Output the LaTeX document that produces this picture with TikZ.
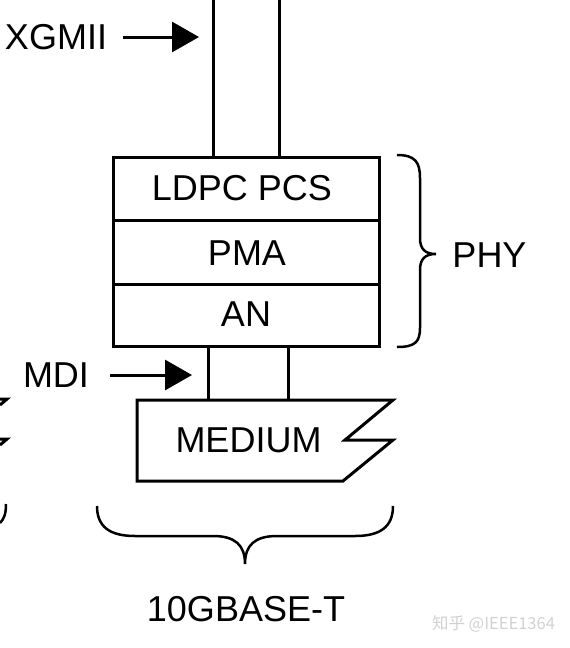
\documentclass[tikz,border=0pt]{standalone}
\usepackage{fontspec}
\setmainfont{Liberation Sans}
\newfontfamily\cjk{Noto Sans CJK SC}
\usetikzlibrary{arrows.meta}
\begin{document}
\begin{tikzpicture}[x=1pt,y=-1pt,
  lbl/.style={font=\fontsize{36}{42}\selectfont, inner sep=0pt},
  layer/.style={draw, line width=3pt, minimum width=266pt, inner sep=0pt},
  wire/.style={line width=3pt},
  inarrow/.style={line width=3pt, -{Triangle[length=27pt,width=30pt]}},
  brace/.style={line width=2.5pt},
  wm/.style={font=\cjk\fontsize{16.5}{19}\selectfont, text=black!18, inner sep=0pt}]
\useasboundingbox (0,0) rectangle (570,648);
% PHY stack
\node[layer, minimum height=63pt] (pcs) at (246,188.5) {};
\node[layer, minimum height=64pt] (pma) at (246,252) {};
\node[layer, minimum height=62pt] (an)  at (246,315) {};
\node[lbl] (pcst) at (242,188) {LDPC PCS};
\node[lbl] (pmat) at (247,253) {PMA};
\node[lbl] (ant)  at (246,314) {AN};
% XGMII
\coordinate (t1) at (213,0);
\coordinate (t2) at (279,0);
\draw[wire] (t1) -- (t1 |- pcs.north);
\draw[wire] (t2) -- (t2 |- pcs.north);
\node[lbl] (xgmii) at (56,37) {XGMII};
\coordinate (xa) at (123,37);
\coordinate (xb) at (199,37);
\draw[inarrow] (xa) -- (xb);
% PHY brace
\draw[brace] (397,155) .. controls (415,155) and (420,162) .. (420,178) -- (420,238)
  .. controls (420,249) and (425,254) .. (436,254)
  .. controls (425,254) and (420,259) .. (420,270) -- (420,328)
  .. controls (420,342) and (415,347) .. (397,347);
\node[lbl] (phy) at (489.5,255) {PHY};
% MEDIUM
\node[lbl] (medium) at (248.5,440) {MEDIUM};
\draw[wire, line join=miter] (137,400) coordinate (mtl) -- (393,400) -- (345,440) -- (393,440) -- (343,481) -- (137,481) -- cycle;
\coordinate (m1) at (208,400);
\coordinate (m2) at (288,400);
\draw[wire] (m1) -- (m1 |- an.south);
\draw[wire] (m2) -- (m2 |- an.south);
% MDI
\node[lbl] (mdi) at (56,375) {MDI};
\coordinate (ma) at (110,375);
\coordinate (mb) at (192,375);
\draw[inarrow] (ma) -- (mb);
% bottom brace
\draw[brace] (97,506) .. controls (97,527) and (110,536) .. (135,536) -- (213,536)
  .. controls (235,536) and (245,545) .. (245,564)
  .. controls (245,545) and (255,536) .. (277,536) -- (355,536)
  .. controls (380,536) and (393,527) .. (393,506);
\node[lbl] (tenG) at (246,609) {10GBASE-T};
% fragments at left edge
\draw[wire] (0,399) -- (7,399) -- (0,405);
\draw[wire] (0,439) -- (7,439) -- (0,445);
\draw[brace] (6,504) .. controls (6,514) and (4,519) .. (0,523);
% watermark
\node[wm] (mark) at (493.5,624) {知乎 @IEEE1364};
\end{tikzpicture}
\end{document}
